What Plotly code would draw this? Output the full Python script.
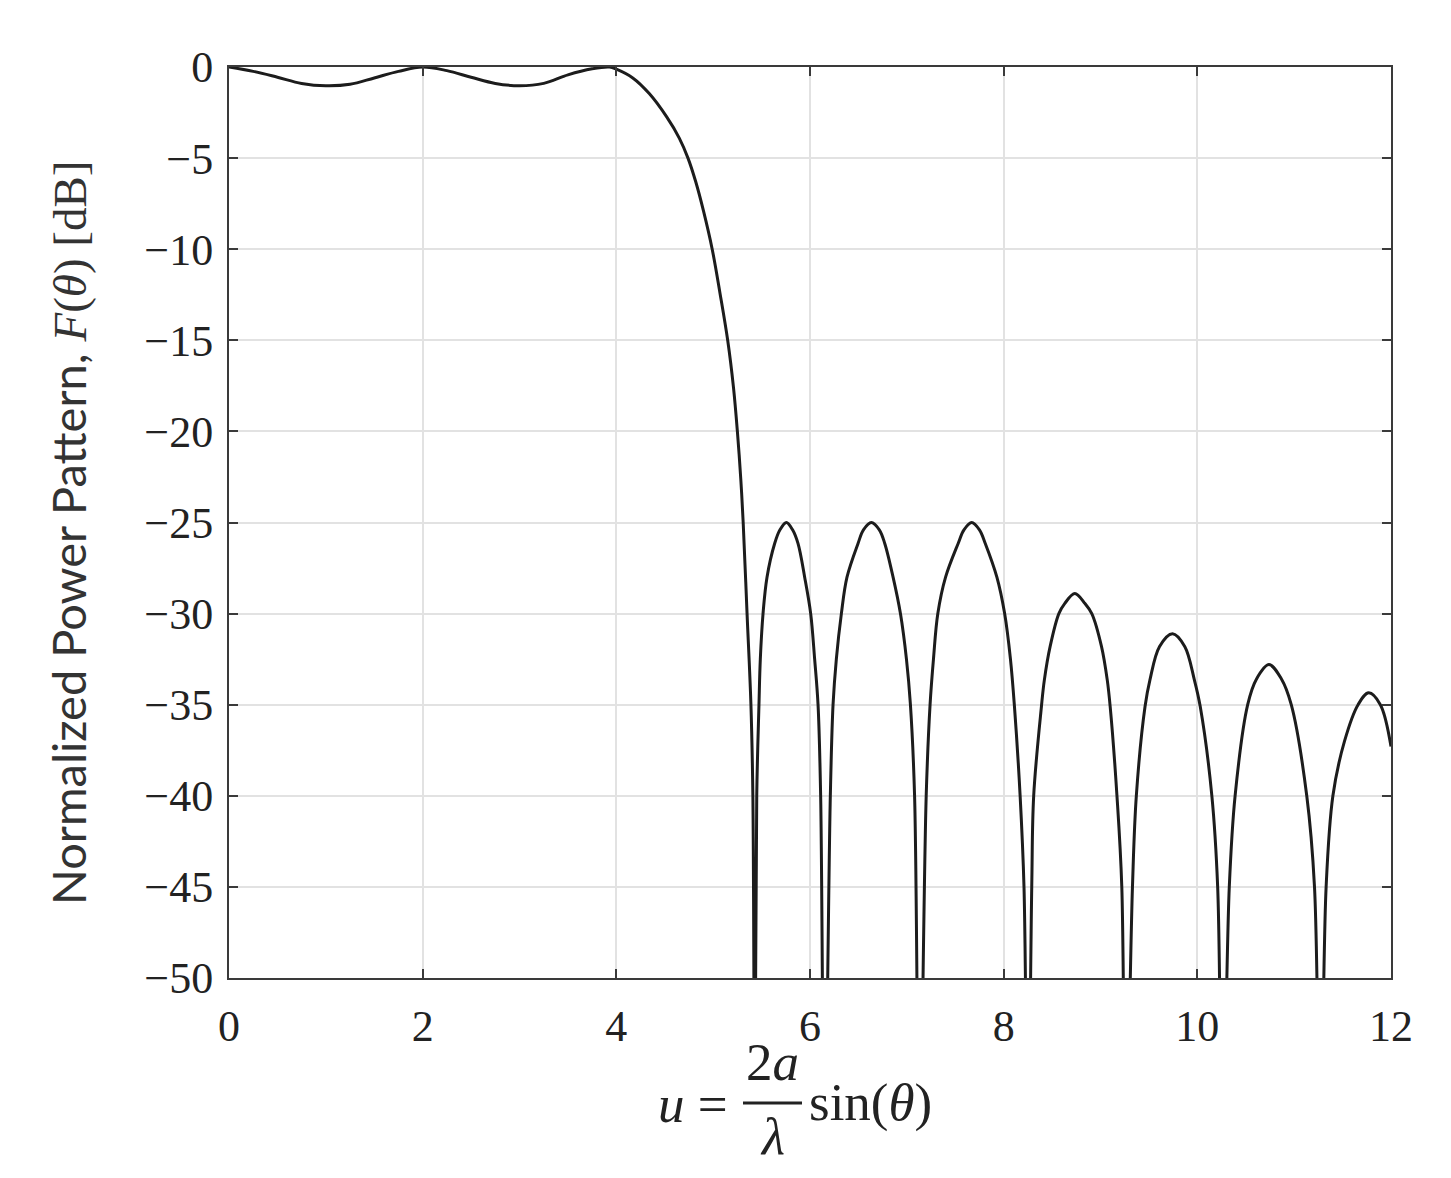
import plotly.graph_objects as go

# normalized power pattern (u, dB)
u_passband = [0, 0.25, 0.5, 0.75, 1.0, 1.25, 1.5, 1.75, 2.0, 2.25, 2.5, 2.75,
              3.0, 3.25, 3.5, 3.75, 3.93]
db_passband = [0, -0.24, -0.56, -0.9, -1.03, -0.95, -0.6, -0.24, 0, -0.2, -0.56, -0.9,
               -1.03, -0.9, -0.43, -0.1, 0]

u_mainlobe = [4.0, 4.17, 4.34, 4.52, 4.65, 4.74, 4.82, 4.90, 4.99, 5.07, 5.15, 5.21,
              5.25, 5.285, 5.31, 5.35, 5.39, 5.41, 5.43]
db_mainlobe = [-0.12, -0.6, -1.46, -2.74, -3.9, -5, -6.3, -7.9, -10, -12.4, -15, -17.6,
               -20, -22.6, -25, -30, -35, -40, -60]

u_sidelobes = [
    5.45, 5.473, 5.487, 5.515, 5.556, 5.635, 5.69, 5.756, 5.82, 5.876, 5.945, 6.007, 6.048, 6.083,
    6.11, 6.15,
    6.21, 6.238, 6.272, 6.324, 6.382, 6.496, 6.552, 6.634, 6.716, 6.772, 6.858, 6.934, 6.996, 7.037,
    7.08, 7.13,
    7.20, 7.24, 7.275, 7.32, 7.40, 7.53, 7.59, 7.67, 7.75, 7.81, 7.93, 8.01, 8.07, 8.11, 8.17, 8.21,
    8.25,
    8.29, 8.31, 8.39, 8.42, 8.48, 8.57, 8.63, 8.735, 8.84, 8.91, 9.01, 9.07, 9.10, 9.17, 9.22, 9.26,
    9.33, 9.37, 9.46, 9.51, 9.61, 9.744, 9.87, 9.97, 10.03, 10.15, 10.21, 10.26,
    10.33, 10.39, 10.52, 10.61, 10.74, 10.87, 10.97, 11.13, 11.21, 11.27,
    11.33, 11.40, 11.52, 11.66, 11.77, 11.89, 12.0,
]
db_sidelobes = [
    -40, -35, -32.5, -30, -28, -26.15, -25.4, -25, -25.4, -26.15, -28, -30, -32.5, -35, -40, -60,
    -40, -35, -32.5, -30, -28, -26.15, -25.4, -25, -25.4, -26.15, -28, -30, -32.5, -35, -40, -60,
    -40, -35, -32.5, -30, -28, -26.15, -25.4, -25, -25.4, -26.15, -28, -30, -32.5, -35, -40, -45, -60,
    -45, -40, -35.1, -33.65, -31.8, -30, -29.45, -28.9, -29.45, -30, -31.8, -33.65, -35.1, -40, -45, -60,
    -45, -40, -35.1, -33.65, -31.8, -31.1, -31.8, -33.65, -35.1, -40, -45, -60,
    -45, -40, -35, -33.6, -32.8, -33.6, -35, -40, -45, -60,
    -45, -40, -37, -35, -34.35, -35, -37.3,
]

u = u_passband + u_mainlobe + u_sidelobes
f_db = db_passband + db_mainlobe + db_sidelobes

# page body adds an 8px margin, so the figure is drawn 8px in from the window edge
OFF = 8
W, H = 1451 - 2 * OFF, 1178 - 2 * OFF
L, R, T, B = 221, 52, 59, 192


def px(x):
    return (x - OFF - L) / (W - L - R)


def py(y):
    return (H - B - (y - OFF)) / (H - T - B)


serif = "Liberation Serif"

fig = go.Figure()
fig.add_trace(go.Scatter(x=u, y=f_db, mode="lines",
                         line=dict(color="#1c1c1c", width=3, shape="spline", smoothing=1.0),
                         showlegend=False, hoverinfo="skip"))

axis_common = dict(showline=True, linecolor="#3a3a3a", linewidth=2, mirror="ticks",
                   ticks="inside", ticklen=9, tickwidth=2, tickcolor="#3a3a3a",
                   showgrid=True, gridcolor="#e2e2e2", gridwidth=2, zeroline=False,
                   tickfont=dict(family=serif, size=44, color="#222"))

fig.update_xaxes(range=[0, 12], dtick=2, tick0=0, ticklabelstandoff=8, **axis_common)
fig.update_yaxes(range=[-50, 0], dtick=5, tick0=0, ticklabelstandoff=5, **axis_common)

# y axis title
fig.add_annotation(xref="paper", yref="paper", x=px(68), y=py(533), textangle=-90,
                   showarrow=False, xanchor="center", yanchor="middle",
                   text="Normalized Power Pattern, <span style='font-family:Liberation Serif'>"
                        "<i>F</i>(<i>θ</i>) [dB]</span>",
                   font=dict(family="Lato", size=47, color="#333"))

# x axis title: u = 2a/λ sin(θ)
mfont = dict(family=serif, size=53, color="#222")
fig.add_annotation(xref="paper", yref="paper", x=px(730), y=py(1104), showarrow=False,
                   xanchor="right", yanchor="middle", text="<i>u</i> =", font=mfont)
fig.add_annotation(xref="paper", yref="paper", x=px(772), y=py(1062), showarrow=False,
                   xanchor="center", yanchor="middle", text="2<i>a</i>", font=mfont)
fig.add_annotation(xref="paper", yref="paper", x=px(772), y=py(1136), showarrow=False,
                   xanchor="center", yanchor="middle", text="<i>λ</i>", font=mfont)
fig.add_annotation(xref="paper", yref="paper", x=px(807), y=py(1102), showarrow=False,
                   xanchor="left", yanchor="middle", text="sin(<i>θ</i>)", font=mfont)
fig.add_shape(type="line", xref="paper", yref="paper", x0=px(743), x1=px(802),
              y0=py(1103), y1=py(1103), line=dict(color="#222", width=3))

fig.update_layout(width=W, height=H, margin=dict(l=L, r=R, t=T, b=B),
                  paper_bgcolor="white", plot_bgcolor="white")

fig.write_html("out.html")
